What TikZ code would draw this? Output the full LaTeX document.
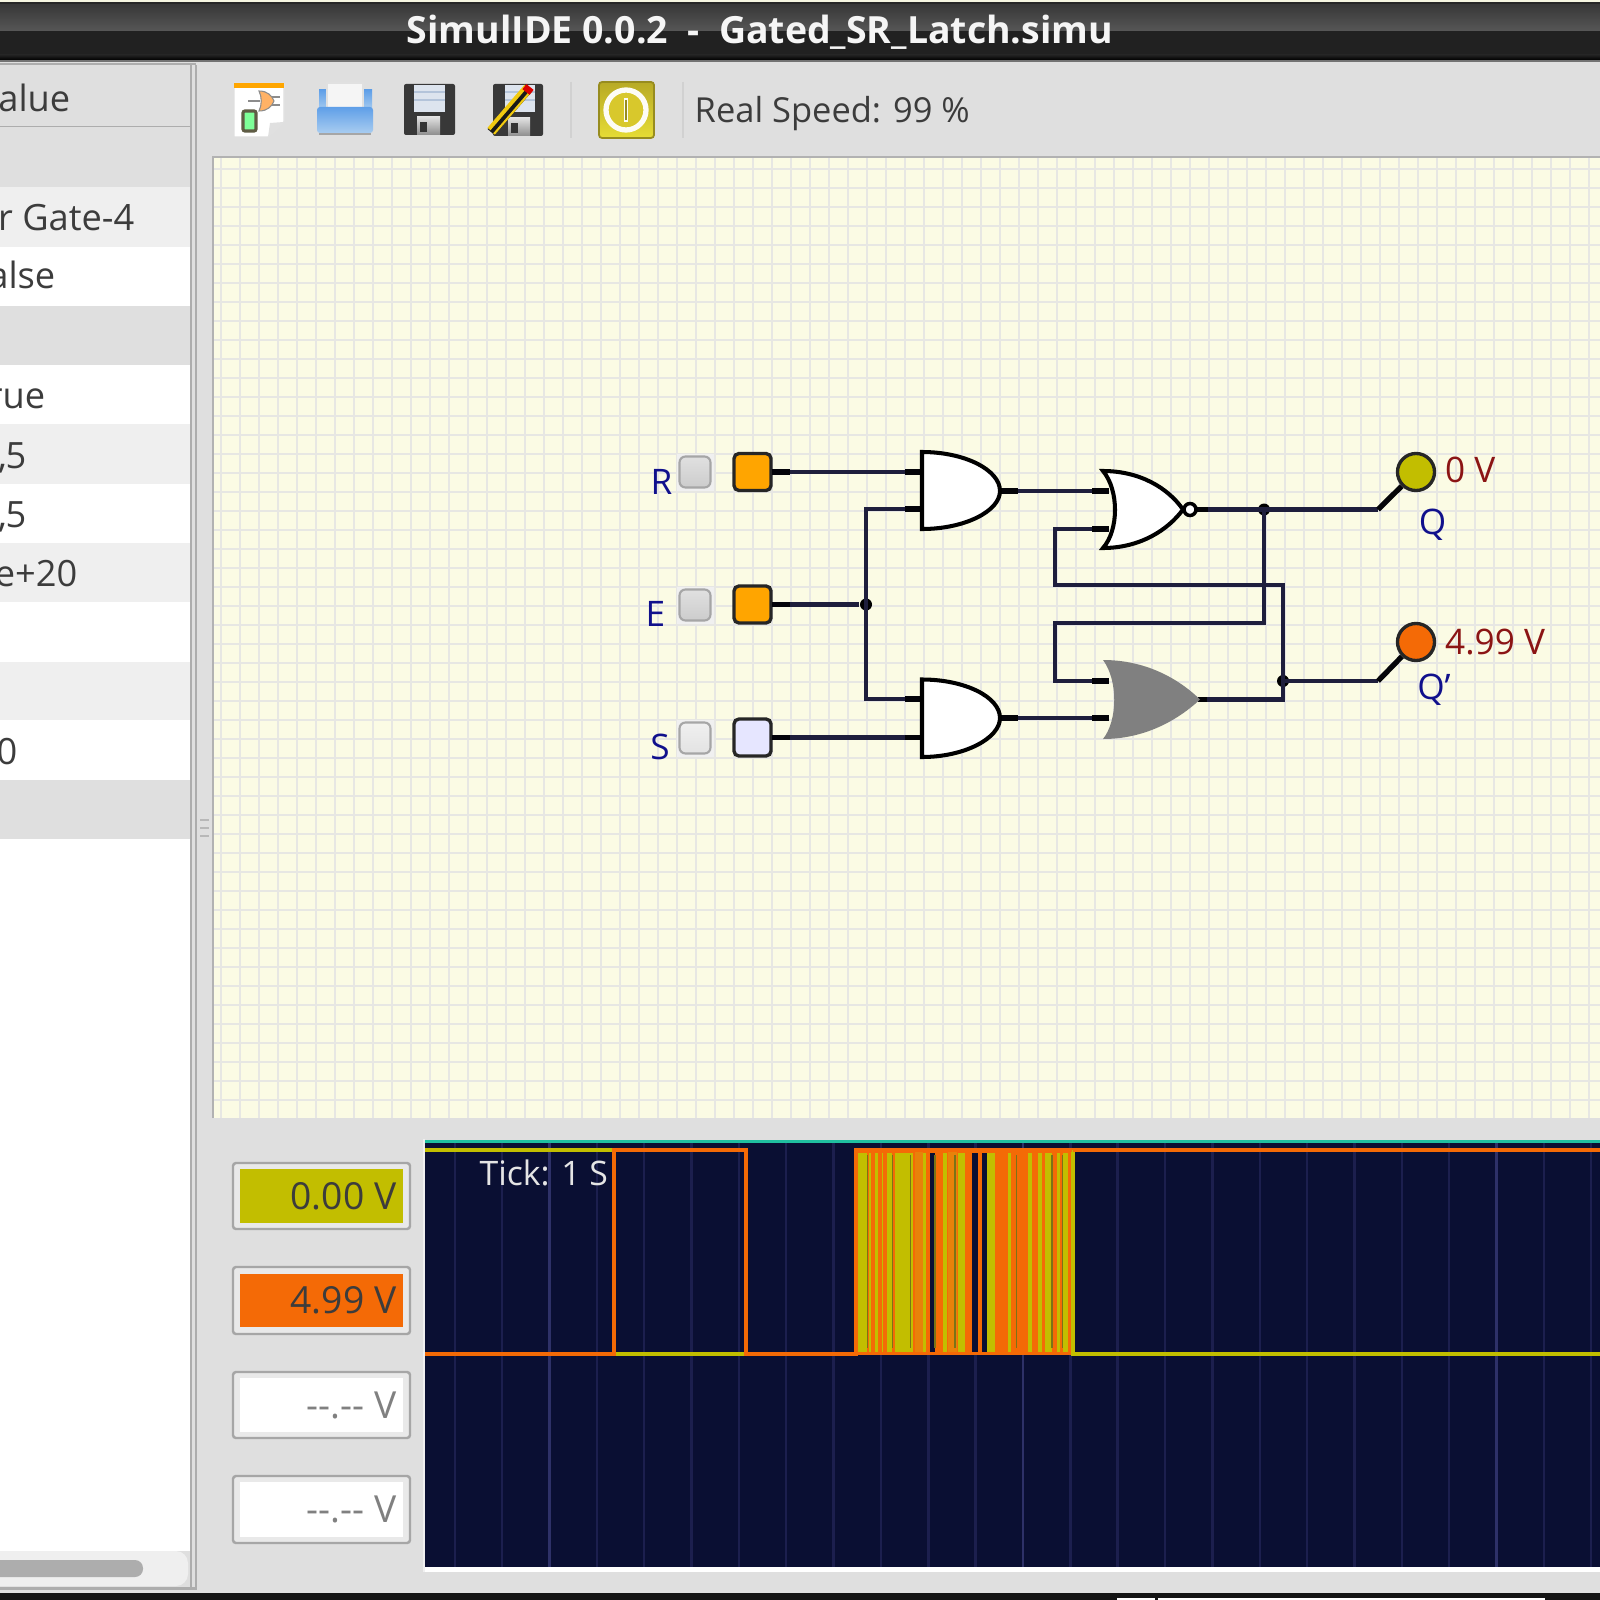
\documentclass[tikz,border=0pt]{standalone}
\usepackage{fontspec}
\setmainfont{Open Sans}
\usetikzlibrary{calc}
\definecolor{panel}{HTML}{DFDFDF}
\definecolor{rowlt}{HTML}{EFEFEF}
\definecolor{canvasbg}{HTML}{FBFBE4}
\definecolor{gridc}{HTML}{E7E7E3}
\definecolor{wirec}{HTML}{1E1E3C}
\definecolor{chy}{HTML}{C2BE00}
\definecolor{cho}{HTML}{F46A06}
\definecolor{chm}{HTML}{E8820A}
\definecolor{chd}{HTML}{7A7416}
\definecolor{scopebg}{HTML}{0A0F33}
\definecolor{scopeln}{HTML}{1C1F4E}
\definecolor{scopehi}{HTML}{2E3168}
\definecolor{teal}{HTML}{20C0A0}
\definecolor{txt}{HTML}{3C3C3C}
\definecolor{lblblue}{HTML}{10108C}
\definecolor{lblred}{HTML}{8B1414}
\definecolor{cream}{HTML}{F5F5E0}
\definecolor{btnyel}{HTML}{D8C82C}
\definecolor{icblue}{HTML}{5F9FE8}
\definecolor{icbluelt}{HTML}{A8CCF0}
\definecolor{srcor}{HTML}{FFA500}
\definecolor{srclt}{HTML}{E6E6FF}
\definecolor{gategray}{HTML}{808080}
\definecolor{savelbl}{HTML}{DDE4EE}
\definecolor{saveln}{HTML}{B4C4DA}
\tikzset{
  paneltext/.style={anchor=base east,inner sep=0pt,text=txt,font=\fontsize{10.3}{12}\selectfont},
  wire/.style={draw=wirec,line width=1.25pt,line join=miter},
  stub/.style={draw=black!85!wirec,line width=1.6pt},
  gate/.style={draw=black,line width=1.15pt,fill=white,line join=miter},
  src/.style={draw=black!85,line width=0.95pt,rounded corners=0.05cm,minimum size=0.37cm,inner sep=0pt},
  knob/.style={draw=black!35,line width=0.6pt,rounded corners=0.06cm,minimum size=0.31cm,inner sep=0pt},
  dotj/.style={circle,fill=black,minimum size=0.12cm,inner sep=0pt},
  probe/.style={circle,draw=black!85,line width=0.95pt,minimum size=0.37cm,inner sep=0pt},
  lbl/.style={inner sep=0pt,text=lblblue,font=\fontsize{10}{12}\selectfont},
  vlbl/.style={anchor=west,inner sep=0pt,text=lblred,font=\fontsize{10}{12}\selectfont},
  dispbox/.style={draw=black!35,fill=panel!70!white,line width=0.7pt,rounded corners=0.03cm},
  disptext/.style={anchor=base east,inner sep=0pt,font=\fontsize{10.6}{12}\selectfont},
  chtrace/.style={line width=1.2pt,line join=miter},
  sepl/.style={draw=black!18,line width=0.5pt}
}
\begin{document}
\begin{tikzpicture}[x=0.01cm,y=-0.01cm]
\useasboundingbox (0,0) rectangle (1600,1600);
\clip (0,0) rectangle (1600,1600);
% window background
\fill[panel] (0,62) rectangle (1600,1593);
% title bar
\fill[cream] (0,0) rectangle (1600,2);
\fill[black!85] (0,2) rectangle (1600,5);
\shade[top color=black!78,bottom color=black!66] (0,5) rectangle (1600,31);
\fill[black!87] (0,31) rectangle (1600,55);
\shade[top color=black!87,bottom color=black] (0,55) rectangle (1600,60);
\fill[black!55] (0,60) rectangle (1600,62);
\node[inner sep=0pt,text=white!96!black,font=\fontsize{10.65}{12}\selectfont\bfseries] (title) at (760,32) {SimulIDE 0.0.2\ \ -\ \ Gated\_SR\_Latch.simu};
% left panel
\fill[white] (0,64) rectangle (190,1551);
\fill[panel] (0,65) rectangle (190,187);
\fill[black!32] (0,126) rectangle (190,127.5);
\fill[rowlt] (0,187) rectangle (190,247);
\fill[panel] (0,306) rectangle (190,365);
\fill[rowlt] (0,424) rectangle (190,484);
\fill[rowlt] (0,543) rectangle (190,602);
\fill[rowlt] (0,662) rectangle (190,720);
\fill[panel] (0,780) rectangle (190,839);
\fill[black!32] (190,63) rectangle (192,1590);
\fill[black!32] (195,65) rectangle (197,1590);
\fill[black!32] (0,63) rectangle (196,65);
\node[paneltext] (v1) at (71,112) {Value};
\node[paneltext] (v2) at (135,230.5) {Or Gate-4};
\node[paneltext] (v3) at (56,288.5) {alse};
\node[paneltext] (v4) at (46,408) {rue};
\node[paneltext] (v5) at (27,468) {,\kern-0.4pt 5};
\node[paneltext] (v6) at (27,527) {,\kern-0.4pt 5};
\node[paneltext] (v7) at (78,586) {e+20};
\node[paneltext] (v8) at (18,764) {0};
% scroll bar
\fill[rowlt,rounded corners=0.12cm] (-20,1551) rectangle (188,1586);
\fill[black!32,rounded corners=0.08cm] (-20,1560) rectangle (143,1577);
\fill[black!32] (0,1587) rectangle (196,1590);
% splitter
\foreach \yy in {820,828,836}
  \draw[black!28,line width=0.5pt] (200,\yy) -- (209,\yy);
% toolbar: new-circuit icon
\fill[white,draw=black!12,line width=0.4pt] (234,83) -- (284,83) -- (284,122) -- (268,137) -- (234,137) -- cycle;
\fill[orange!70!yellow] (234,83) rectangle (284,88);
\fill[black!12] (284,122) -- (270,123) -- (268,137) -- cycle;
\draw[black!45,line width=0.5pt] (248,101) -- (260,101) (270,97) -- (280,97) (270,105) -- (280,105);
\fill[orange!60!white,draw=black!45,line width=0.3pt] (259,91) .. controls (268,91) and (272,96) .. (274,101) .. controls (272,106) and (268,111) .. (259,111) .. controls (262,105) and (262,97) .. (259,91) -- cycle;
\fill[green!45!white!90!cyan,draw=black!60!yellow!70!black,line width=0.9pt,rounded corners=0.02cm] (243,111) rectangle (256,131);
% toolbar: open icon
\shade[top color=icblue,bottom color=icbluelt] (319,90) rectangle (372,110);
\fill[white!96!black,draw=black!12,line width=0.3pt] (327,83) rectangle (363,108);
\shade[top color=icblue,bottom color=icbluelt,rounded corners=0.03cm] (317,107) rectangle (373,133);
\fill[black!35] (319,133) rectangle (371,135);
% toolbar: save icon
\fill[black!78,rounded corners=0.02cm] (404,84) rectangle (455,135);
\fill[savelbl] (414,85) rectangle (445,112);
\draw[saveln,line width=0.4pt] (414,92) -- (445,92) (414,100) -- (445,100);
\shade[top color=black!12,bottom color=black!45] (417,117) rectangle (440,135);
\fill[black!80] (420,122) rectangle (427,132);
% toolbar: save-as icon
\fill[black!78,rounded corners=0.02cm] (493,84) rectangle (543,136);
\fill[savelbl] (505,85) rectangle (535,112);
\draw[saveln,line width=0.4pt] (505,92) -- (535,92) (505,100) -- (535,100);
\shade[top color=black!12,bottom color=black!45] (508,118) rectangle (530,136);
\fill[black!80] (511,123) rectangle (518,133);
\draw[black!90,line width=2.6pt] (491,132) -- (529,88);
\draw[yellow!70!orange!95!black,line width=1.1pt] (489,129) -- (526,86);
\draw[yellow!70!orange!95!black,line width=0.6pt] (494,134) -- (531,91);
\draw[red!85!black,line width=2.6pt] (526,92) -- (530,87);
% separators
\draw[sepl] (571,82) -- (571,138);
\draw[sepl] (683,82) -- (683,138);
% toolbar: power button
\shade[top color=btnyel!85!black,bottom color=btnyel!70!yellow!90!white,draw=black!30!btnyel,line width=0.5pt,rounded corners=0.03cm] (599,82) rectangle (654,138);
\draw[white!95!btnyel,line width=1.5pt,fill=btnyel] (626,110) circle[radius=20];
\draw[white!95!btnyel,line width=1.4pt] (626,98) -- (626,122);
\draw[black!30!btnyel,line width=0.4pt] (626,100) -- (626,120);
\node[anchor=base west,inner sep=0pt,text=txt,font=\fontsize{9.8}{12}\selectfont] (speed) at (694,123) {Real Speed: 99 \%};
% canvas
\fill[canvasbg] (213,157) rectangle (1600,1118);
\begin{scope}
\clip (213,157) rectangle (1600,1118);
\foreach \k in {0,...,72} \draw[gridc,line width=0.65pt] ({220.67+19*\k},157) -- ({220.67+19*\k},1118);
\foreach \k in {0,...,49} \draw[gridc,line width=0.65pt] (213,{169.3+19*\k}) -- (1600,{169.3+19*\k});
\end{scope}
\draw[black!30,line width=0.6pt] (213,1118) -- (213,157) -- (1600,157);
% circuit: named anchors
\node[lbl] (lR) at (661.5,482) {R};
\node[lbl] (lE) at (655.5,614) {E};
\node[lbl] (lS) at (660,747) {S};
\fill[black!6] (677,454) rectangle (714,491);
\fill[black!6] (677,587) rectangle (714,624);
\fill[black!6] (677,720) rectangle (714,757);
\node[knob,top color=black!12,bottom color=black!20] (kR) at (695,472) {};
\node[knob,top color=black!12,bottom color=black!20] (kE) at (695,605) {};
\node[knob,top color=black!6,bottom color=black!11] (kS) at (695,738) {};
\node[src,fill=srcor] (sR) at (752.5,472) {};
\node[src,fill=srcor] (sE) at (752.5,604.5) {};
\node[src,fill=srclt] (sS) at (752.5,737.5) {};
\coordinate (a1a) at (922,472);
\coordinate (a1b) at (922,509);
\coordinate (a1o) at (1000,491);
\coordinate (a2a) at (922,699);
\coordinate (a2b) at (922,737.5);
\coordinate (a2o) at (1000,718);
\coordinate (n1a) at (1108,491);
\coordinate (n1b) at (1108,529);
\coordinate (n1o) at (1190,509.5);
\coordinate (n2a) at (1108,681);
\coordinate (n2b) at (1108,718);
\coordinate (n2o) at (1200,699.5);
\coordinate (b1) at (1055,529);
\coordinate (b2) at (1055,585);
\coordinate (b3) at (1283,585);
\coordinate (b4) at (1264,623);
\coordinate (b5) at (1055,623);
\coordinate (b6) at (1055,681);
\coordinate (b7) at (1283,699.5);
\coordinate (kQ) at (1378,509.5);
\coordinate (kP) at (1378,681);
\node[dotj] (jE) at (866,604.5) {};
\node[dotj] (jQ) at (1264,509.5) {};
\node[dotj] (jP) at (1283,681) {};
\node[probe,fill=chy] (pQ) at (1416,472) {};
\node[probe,fill=cho] (pP) at (1416,642) {};
% wires
\draw[wire] (sR) -- (a1a);
\draw[wire] (sE) -- (jE);
\draw[wire] (sS) -- (a2b);
\draw[wire] (jE.center) |- (a1b);
\draw[wire] (jE.center) |- (a2a);
\draw[wire] (a1o) -- (n1a);
\draw[wire] (a2o) -- (n2b);
\draw[wire] (n1o) -- (kQ);
\draw[wire] (jQ.center) -- (b4) -- (b5) -- (b6) -- (n2a);
\draw[wire] (n1b) -- (b1) -- (b2) -- (b3) -- (b7) -- (n2o);
\draw[wire] (jP.center) -- (kP);
\draw[line width=1.5pt,black!85!wirec] (kQ) -- (pQ);
\draw[line width=1.5pt,black!85!wirec] (kP) -- (pP);
% pin stubs
\foreach \aa/\bb in {772/472,772/604.5,772/737.5,1000/491,1000/718} \draw[stub] (\aa,\bb) -- ({\aa+18},\bb);
\foreach \aa/\bb in {905/472,905/509,905/699,905/737.5} \draw[stub] (\aa,\bb) -- ({\aa+17},\bb);
\foreach \aa/\bb in {1092/491,1092/529,1092/681,1092/718} \draw[stub] (\aa,\bb) -- ({\aa+17},\bb);
\draw[stub] (1197,509.5) -- (1208,509.5);
\draw[stub] (1198,699.5) -- (1207,699.5);
% gates
\draw[gate] (922,452) .. controls (965,452) and (1000,470) .. (1000,491) .. controls (1000,511) and (965,529) .. (922,529) -- cycle;
\draw[gate] (922,679.5) .. controls (965,679.5) and (1000,697) .. (1000,718) .. controls (1000,738) and (965,757) .. (922,757) -- cycle;
\draw[gate] (1103,471) .. controls (1140,471) and (1168,488) .. (1183,509.5) .. controls (1168,530) and (1140,548) .. (1103,548) .. controls (1119,530) and (1119,490) .. (1103,471) -- cycle;
\draw[draw=black,line width=1pt,fill=white] (n1o) circle[radius=6];
\fill[gategray] (1103,660) .. controls (1145,660) and (1178,678) .. (1200,699.5) .. controls (1178,720) and (1145,739) .. (1103,739) .. controls (1118,720) and (1118,680) .. (1103,660) -- cycle;
\foreach \aa/\bb in {1092/681,1092/718} \draw[stub] (\aa,\bb) -- ({\aa+17},\bb);
% voltage and name labels
\node[vlbl] (vQ) at (1444.5,470) {0 V};
\node[vlbl] (vP) at (1444.5,642) {4.99 V};
\node[lbl] (lQ) at (1432.5,525) {Q};
\node[lbl] (lP) at (1434,690) {Q'};
% value displays
\draw[dispbox] (233,1163) rectangle (410,1229);
\fill[chy] (240,1169) rectangle (403,1223);
\node[disptext,text=txt] (d1) at (397,1209) {0.00 V};
\draw[dispbox] (233,1267) rectangle (410,1334);
\fill[cho] (240,1274) rectangle (403,1327);
\node[disptext,text=txt] (d2) at (397,1313) {4.99 V};
\draw[dispbox] (233,1372) rectangle (410,1438);
\fill[white] (240,1378) rectangle (403,1432);
\node[disptext,text=black!50] (d3) at (397,1418) {-{}-.-{}- V};
\draw[dispbox] (233,1476) rectangle (410,1543);
\fill[white] (240,1482) rectangle (403,1537);
\node[disptext,text=black!50] (d4) at (397,1522) {-{}-.-{}- V};
% scope
\fill[white!94!black] (423,1139) rectangle (425,1572);
\fill[white] (425,1567) rectangle (1600,1572);
\fill[scopebg] (425,1141) rectangle (1600,1567);
\foreach \k in {-12,...,12} \draw[scopeln,line width=0.7pt] ({1023+47.35*\k},1143) -- ({1023+47.35*\k},1567);
\foreach \k in {-10,0,10} \draw[scopehi,line width=0.7pt] ({1023+47.35*\k},1143) -- ({1023+47.35*\k},1567);
\fill[teal] (425,1140) rectangle (1600,1142.5);
% noise band
\fill[cho] (856,1148) rectangle (1073,1355);
\foreach \a/\b in {225/250,325/350} \fill[chm] ({840+\a/3},1152) rectangle ({840+\b/3},1352);
\foreach \a/\b in {55/80,88/94,105/115,125/130,140/155,165/218,250/258,310/320,355/375,440/465,505/512,565/575,595/605,615/635,650/660,670/685}
  \fill[chy] ({840+\a/3},1153) rectangle ({840+\b/3},1352);
\foreach \a/\b in {271/284,396/414,425/440} \fill[scopebg] ({840+\a/3},1153) rectangle ({840+\b/3},1352);
\foreach \a in {82,158,212,285,345,530,636,668} \draw[chd,line width=0.3pt] ({840+\a/3},1155) -- ({840+\a/3},1348);
% traces
\draw[chy,chtrace] (425,1150) -- (614,1150);
\draw[chy,chtrace] (614,1354) -- (746,1354);
\draw[chy,chtrace] (1073,1150) -- (1073,1354) -- (1600,1354);
\draw[cho,chtrace] (425,1354) -- (614,1354) -- (614,1150) -- (746,1150) -- (746,1354) -- (856,1354) -- (856,1150) -- (1072,1150);
\draw[cho,chtrace] (1073,1150) -- (1600,1150);
\draw[chy,line width=0.9pt] (1073,1153) -- (1073,1354);
\node[anchor=base west,inner sep=0pt,text=white!90!black,font=\fontsize{9.6}{11}\selectfont] (tick) at (479,1185) {Tick: 1 S};
% bottom bar
\fill[white!88!black] (0,1591) rectangle (1600,1592.5);
\fill[black!92] (0,1592.5) rectangle (1600,1600);
\fill[white] (1117,1598) rectangle (1155,1600);
\fill[white] (1158,1598) rectangle (1545,1600);
\end{tikzpicture}
\end{document}
